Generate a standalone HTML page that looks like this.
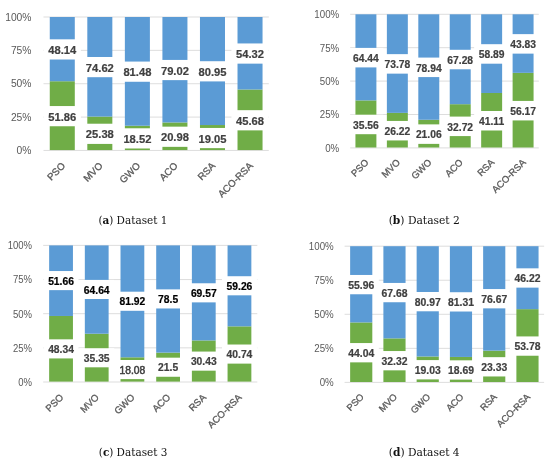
<!DOCTYPE html>
<html><head><meta charset="utf-8"><title>Figure</title>
<style>
html,body{margin:0;padding:0;background:#fff}
svg{display:block}
.s{font-family:"Liberation Sans",sans-serif}
.c{font-family:"DejaVu Serif","Liberation Serif",serif;fill:#111}
</style></head><body>
<svg width="550" height="468" viewBox="0 0 550 468">
<rect width="550" height="468" fill="#fff"/>
<g class="s">
<line x1="43.5" x2="268.8" y1="150.45" y2="150.45" stroke="#D9D9D9" stroke-width="0.9"/>
<text transform="translate(31.5 154.16) scale(1 1)" text-anchor="end" font-size="10.3" fill="#595959">0%</text>
<line x1="43.5" x2="268.8" y1="117.09" y2="117.09" stroke="#D9D9D9" stroke-width="0.9"/>
<text transform="translate(31.5 120.8) scale(1 1)" text-anchor="end" font-size="10.3" fill="#595959">25%</text>
<line x1="43.5" x2="268.8" y1="83.72" y2="83.72" stroke="#D9D9D9" stroke-width="0.9"/>
<text transform="translate(31.5 87.43) scale(1 1)" text-anchor="end" font-size="10.3" fill="#595959">50%</text>
<line x1="43.5" x2="268.8" y1="50.36" y2="50.36" stroke="#D9D9D9" stroke-width="0.9"/>
<text transform="translate(31.5 54.07) scale(1 1)" text-anchor="end" font-size="10.3" fill="#595959">75%</text>
<line x1="43.5" x2="268.8" y1="17" y2="17" stroke="#D9D9D9" stroke-width="0.9"/>
<text transform="translate(31.5 20.71) scale(1 1)" text-anchor="end" font-size="10.3" fill="#595959">100%</text>
<rect x="49.76" y="81.24" width="25.03" height="68.81" fill="#70AD47"/>
<rect x="49.76" y="17" width="25.03" height="64.24" fill="#5B9BD5"/>
<rect x="87.31" y="116.58" width="25.03" height="33.47" fill="#70AD47"/>
<rect x="87.31" y="17" width="25.03" height="99.58" fill="#5B9BD5"/>
<rect x="124.86" y="125.74" width="25.03" height="24.31" fill="#70AD47"/>
<rect x="124.86" y="17" width="25.03" height="108.74" fill="#5B9BD5"/>
<rect x="162.41" y="122.45" width="25.03" height="27.6" fill="#70AD47"/>
<rect x="162.41" y="17" width="25.03" height="105.45" fill="#5B9BD5"/>
<rect x="199.96" y="125.03" width="25.03" height="25.02" fill="#70AD47"/>
<rect x="199.96" y="17" width="25.03" height="108.03" fill="#5B9BD5"/>
<rect x="237.51" y="89.49" width="25.03" height="60.56" fill="#70AD47"/>
<rect x="237.51" y="17" width="25.03" height="72.49" fill="#5B9BD5"/>
<rect x="43.66" y="106.05" width="37.22" height="20.2" fill="#fff"/>
<text x="62.28" y="120.66" text-anchor="middle" font-size="11.2" font-weight="bold" fill="#404040" stroke="#404040" stroke-width="0.2">51.86</text>
<rect x="43.66" y="39.32" width="37.22" height="20.2" fill="#fff"/>
<text x="62.28" y="53.93" text-anchor="middle" font-size="11.2" font-weight="bold" fill="#404040" stroke="#404040" stroke-width="0.2">48.14</text>
<rect x="81.21" y="123.72" width="37.22" height="20.2" fill="#fff"/>
<text x="99.83" y="138.32" text-anchor="middle" font-size="11.2" font-weight="bold" fill="#404040" stroke="#404040" stroke-width="0.2">25.38</text>
<rect x="81.21" y="56.99" width="37.22" height="20.2" fill="#fff"/>
<text x="99.83" y="71.6" text-anchor="middle" font-size="11.2" font-weight="bold" fill="#404040" stroke="#404040" stroke-width="0.2">74.62</text>
<rect x="118.76" y="128.29" width="37.22" height="20.2" fill="#fff"/>
<text x="137.38" y="142.9" text-anchor="middle" font-size="11.2" font-weight="bold" fill="#404040" stroke="#404040" stroke-width="0.2">18.52</text>
<rect x="118.76" y="61.57" width="37.22" height="20.2" fill="#fff"/>
<text x="137.38" y="76.18" text-anchor="middle" font-size="11.2" font-weight="bold" fill="#404040" stroke="#404040" stroke-width="0.2">81.48</text>
<rect x="156.31" y="126.65" width="37.22" height="20.2" fill="#fff"/>
<text x="174.93" y="141.26" text-anchor="middle" font-size="11.2" font-weight="bold" fill="#404040" stroke="#404040" stroke-width="0.2">20.98</text>
<rect x="156.31" y="59.93" width="37.22" height="20.2" fill="#fff"/>
<text x="174.93" y="74.54" text-anchor="middle" font-size="11.2" font-weight="bold" fill="#404040" stroke="#404040" stroke-width="0.2">79.02</text>
<rect x="193.86" y="127.94" width="37.22" height="20.2" fill="#fff"/>
<text x="212.48" y="142.55" text-anchor="middle" font-size="11.2" font-weight="bold" fill="#404040" stroke="#404040" stroke-width="0.2">19.05</text>
<rect x="193.86" y="61.21" width="37.22" height="20.2" fill="#fff"/>
<text x="212.48" y="75.82" text-anchor="middle" font-size="11.2" font-weight="bold" fill="#404040" stroke="#404040" stroke-width="0.2">80.95</text>
<rect x="231.41" y="110.17" width="37.22" height="20.2" fill="#fff"/>
<text x="250.03" y="124.78" text-anchor="middle" font-size="11.2" font-weight="bold" fill="#404040" stroke="#404040" stroke-width="0.2">45.68</text>
<rect x="231.41" y="43.45" width="37.22" height="20.2" fill="#fff"/>
<text x="250.03" y="58.05" text-anchor="middle" font-size="11.2" font-weight="bold" fill="#404040" stroke="#404040" stroke-width="0.2">54.32</text>
<text transform="translate(60.78 161.45) rotate(-45)" text-anchor="end" font-size="9.8" fill="#595959" stroke="#595959" stroke-width="0.3" x="0" y="7.06">PSO</text>
<text transform="translate(98.33 161.45) rotate(-45)" text-anchor="end" font-size="9.8" fill="#595959" stroke="#595959" stroke-width="0.3" x="0" y="7.06">MVO</text>
<text transform="translate(135.88 161.45) rotate(-45)" text-anchor="end" font-size="9.8" fill="#595959" stroke="#595959" stroke-width="0.3" x="0" y="7.06">GWO</text>
<text transform="translate(173.43 161.45) rotate(-45)" text-anchor="end" font-size="9.8" fill="#595959" stroke="#595959" stroke-width="0.3" x="0" y="7.06">ACO</text>
<text transform="translate(210.98 161.45) rotate(-45)" text-anchor="end" font-size="9.8" fill="#595959" stroke="#595959" stroke-width="0.3" x="0" y="7.06">RSA</text>
<text transform="translate(248.53 161.45) rotate(-45)" text-anchor="end" font-size="9.8" fill="#595959" stroke="#595959" stroke-width="0.3" x="0" y="7.06">ACO-RSA</text>
</g>
<text class="c" x="98.4" y="223.6" font-size="10.45">(<tspan font-weight="bold">a</tspan>) Dataset 1</text>
<g class="s">
<line x1="350.2" x2="538.8" y1="147.9" y2="147.9" stroke="#D9D9D9" stroke-width="0.9"/>
<text transform="translate(339.2 151.7) scale(0.975 1)" text-anchor="end" font-size="10.0" fill="#595959">0%</text>
<line x1="350.2" x2="538.8" y1="114.5" y2="114.5" stroke="#D9D9D9" stroke-width="0.9"/>
<text transform="translate(339.2 118.3) scale(0.975 1)" text-anchor="end" font-size="10.0" fill="#595959">25%</text>
<line x1="350.2" x2="538.8" y1="81.1" y2="81.1" stroke="#D9D9D9" stroke-width="0.9"/>
<text transform="translate(339.2 84.9) scale(0.975 1)" text-anchor="end" font-size="10.0" fill="#595959">50%</text>
<line x1="350.2" x2="538.8" y1="47.7" y2="47.7" stroke="#D9D9D9" stroke-width="0.9"/>
<text transform="translate(339.2 51.5) scale(0.975 1)" text-anchor="end" font-size="10.0" fill="#595959">75%</text>
<line x1="350.2" x2="538.8" y1="14.3" y2="14.3" stroke="#D9D9D9" stroke-width="0.9"/>
<text transform="translate(339.2 18.1) scale(0.975 1)" text-anchor="end" font-size="10.0" fill="#595959">100%</text>
<rect x="355.44" y="100.39" width="20.96" height="47.11" fill="#70AD47"/>
<rect x="355.44" y="14.3" width="20.96" height="86.09" fill="#5B9BD5"/>
<rect x="386.87" y="112.87" width="20.96" height="34.63" fill="#70AD47"/>
<rect x="386.87" y="14.3" width="20.96" height="98.57" fill="#5B9BD5"/>
<rect x="418.31" y="119.76" width="20.96" height="27.74" fill="#70AD47"/>
<rect x="418.31" y="14.3" width="20.96" height="105.46" fill="#5B9BD5"/>
<rect x="449.74" y="104.19" width="20.96" height="43.31" fill="#70AD47"/>
<rect x="449.74" y="14.3" width="20.96" height="89.89" fill="#5B9BD5"/>
<rect x="481.17" y="92.98" width="20.96" height="54.52" fill="#70AD47"/>
<rect x="481.17" y="14.3" width="20.96" height="78.68" fill="#5B9BD5"/>
<rect x="512.61" y="72.86" width="20.96" height="74.64" fill="#70AD47"/>
<rect x="512.61" y="14.3" width="20.96" height="58.56" fill="#5B9BD5"/>
<rect x="348.43" y="114.7" width="34.97" height="19.5" fill="#fff"/>
<text x="365.92" y="128.63" text-anchor="middle" font-size="10.3" font-weight="bold" fill="#404040" stroke="#404040" stroke-width="0.2">35.56</text>
<rect x="348.43" y="47.9" width="34.97" height="19.5" fill="#fff"/>
<text x="365.92" y="61.83" text-anchor="middle" font-size="10.3" font-weight="bold" fill="#404040" stroke="#404040" stroke-width="0.2">64.44</text>
<rect x="379.86" y="120.94" width="34.97" height="19.5" fill="#fff"/>
<text x="397.35" y="134.87" text-anchor="middle" font-size="10.3" font-weight="bold" fill="#404040" stroke="#404040" stroke-width="0.2">26.22</text>
<rect x="379.86" y="54.14" width="34.97" height="19.5" fill="#fff"/>
<text x="397.35" y="68.07" text-anchor="middle" font-size="10.3" font-weight="bold" fill="#404040" stroke="#404040" stroke-width="0.2">73.78</text>
<rect x="411.3" y="124.38" width="34.97" height="19.5" fill="#fff"/>
<text x="428.78" y="138.32" text-anchor="middle" font-size="10.3" font-weight="bold" fill="#404040" stroke="#404040" stroke-width="0.2">21.06</text>
<rect x="411.3" y="57.58" width="34.97" height="19.5" fill="#fff"/>
<text x="428.78" y="71.52" text-anchor="middle" font-size="10.3" font-weight="bold" fill="#404040" stroke="#404040" stroke-width="0.2">78.94</text>
<rect x="442.73" y="116.59" width="34.97" height="19.5" fill="#fff"/>
<text x="460.22" y="130.53" text-anchor="middle" font-size="10.3" font-weight="bold" fill="#404040" stroke="#404040" stroke-width="0.2">32.72</text>
<rect x="442.73" y="49.79" width="34.97" height="19.5" fill="#fff"/>
<text x="460.22" y="63.73" text-anchor="middle" font-size="10.3" font-weight="bold" fill="#404040" stroke="#404040" stroke-width="0.2">67.28</text>
<rect x="474.16" y="110.99" width="34.97" height="19.5" fill="#fff"/>
<text x="491.65" y="124.93" text-anchor="middle" font-size="10.3" font-weight="bold" fill="#404040" stroke="#404040" stroke-width="0.2">41.11</text>
<rect x="474.16" y="44.19" width="34.97" height="19.5" fill="#fff"/>
<text x="491.65" y="58.13" text-anchor="middle" font-size="10.3" font-weight="bold" fill="#404040" stroke="#404040" stroke-width="0.2">58.89</text>
<rect x="505.6" y="100.93" width="34.97" height="19.5" fill="#fff"/>
<text x="523.08" y="114.87" text-anchor="middle" font-size="10.3" font-weight="bold" fill="#404040" stroke="#404040" stroke-width="0.2">56.17</text>
<rect x="505.6" y="34.13" width="34.97" height="19.5" fill="#fff"/>
<text x="523.08" y="48.07" text-anchor="middle" font-size="10.3" font-weight="bold" fill="#404040" stroke="#404040" stroke-width="0.2">43.83</text>
<text transform="translate(364.42 158.1) rotate(-45)" text-anchor="end" font-size="9.5" fill="#595959" stroke="#595959" stroke-width="0.3" x="0" y="6.84">PSO</text>
<text transform="translate(395.85 158.1) rotate(-45)" text-anchor="end" font-size="9.5" fill="#595959" stroke="#595959" stroke-width="0.3" x="0" y="6.84">MVO</text>
<text transform="translate(427.28 158.1) rotate(-45)" text-anchor="end" font-size="9.5" fill="#595959" stroke="#595959" stroke-width="0.3" x="0" y="6.84">GWO</text>
<text transform="translate(458.72 158.1) rotate(-45)" text-anchor="end" font-size="9.5" fill="#595959" stroke="#595959" stroke-width="0.3" x="0" y="6.84">ACO</text>
<text transform="translate(490.15 158.1) rotate(-45)" text-anchor="end" font-size="9.5" fill="#595959" stroke="#595959" stroke-width="0.3" x="0" y="6.84">RSA</text>
<text transform="translate(521.58 158.1) rotate(-45)" text-anchor="end" font-size="9.5" fill="#595959" stroke="#595959" stroke-width="0.3" x="0" y="6.84">ACO-RSA</text>
</g>
<text class="c" x="388.7" y="224" font-size="10.7">(<tspan font-weight="bold">b</tspan>) Dataset 2</text>
<g class="s">
<line x1="43.2" x2="257.3" y1="382" y2="382" stroke="#D9D9D9" stroke-width="0.9"/>
<text transform="translate(32.1 385.8) scale(0.955 1)" text-anchor="end" font-size="10.0" fill="#595959">0%</text>
<line x1="43.2" x2="257.3" y1="347.85" y2="347.85" stroke="#D9D9D9" stroke-width="0.9"/>
<text transform="translate(32.1 351.65) scale(0.955 1)" text-anchor="end" font-size="10.0" fill="#595959">25%</text>
<line x1="43.2" x2="257.3" y1="313.7" y2="313.7" stroke="#D9D9D9" stroke-width="0.9"/>
<text transform="translate(32.1 317.5) scale(0.955 1)" text-anchor="end" font-size="10.0" fill="#595959">50%</text>
<line x1="43.2" x2="257.3" y1="279.55" y2="279.55" stroke="#D9D9D9" stroke-width="0.9"/>
<text transform="translate(32.1 283.35) scale(0.955 1)" text-anchor="end" font-size="10.0" fill="#595959">75%</text>
<line x1="43.2" x2="257.3" y1="245.4" y2="245.4" stroke="#D9D9D9" stroke-width="0.9"/>
<text transform="translate(32.1 249.2) scale(0.955 1)" text-anchor="end" font-size="10.0" fill="#595959">100%</text>
<rect x="49.15" y="315.97" width="23.79" height="65.63" fill="#70AD47"/>
<rect x="49.15" y="245.4" width="23.79" height="70.57" fill="#5B9BD5"/>
<rect x="84.83" y="333.71" width="23.79" height="47.89" fill="#70AD47"/>
<rect x="84.83" y="245.4" width="23.79" height="88.31" fill="#5B9BD5"/>
<rect x="120.51" y="357.3" width="23.79" height="24.3" fill="#70AD47"/>
<rect x="120.51" y="245.4" width="23.79" height="111.9" fill="#5B9BD5"/>
<rect x="156.2" y="352.63" width="23.79" height="28.97" fill="#70AD47"/>
<rect x="156.2" y="245.4" width="23.79" height="107.23" fill="#5B9BD5"/>
<rect x="191.88" y="340.43" width="23.79" height="41.17" fill="#70AD47"/>
<rect x="191.88" y="245.4" width="23.79" height="95.03" fill="#5B9BD5"/>
<rect x="227.56" y="326.35" width="23.79" height="55.25" fill="#70AD47"/>
<rect x="227.56" y="245.4" width="23.79" height="80.95" fill="#5B9BD5"/>
<rect x="43.56" y="339.33" width="34.97" height="19.1" fill="#fff"/>
<text x="61.04" y="352.97" text-anchor="middle" font-size="10.3" font-weight="bold" fill="#404040" stroke="#404040" stroke-width="0.2">48.34</text>
<rect x="43.56" y="271.03" width="34.97" height="19.1" fill="#fff"/>
<text x="61.04" y="284.67" text-anchor="middle" font-size="10.3" font-weight="bold" fill="#000000" stroke="#000000" stroke-width="0.2">51.66</text>
<rect x="79.24" y="348.21" width="34.97" height="19.1" fill="#fff"/>
<text x="96.73" y="361.84" text-anchor="middle" font-size="10.3" font-weight="bold" fill="#404040" stroke="#404040" stroke-width="0.2">35.35</text>
<rect x="79.24" y="279.91" width="34.97" height="19.1" fill="#fff"/>
<text x="96.73" y="293.55" text-anchor="middle" font-size="10.3" font-weight="bold" fill="#000000" stroke="#000000" stroke-width="0.2">64.64</text>
<rect x="114.92" y="360" width="34.97" height="19.1" fill="#fff"/>
<text x="132.41" y="373.64" text-anchor="middle" font-size="10.3" font-weight="normal" fill="#404040" stroke="#404040" stroke-width="0.5">18.08</text>
<rect x="114.92" y="291.7" width="34.97" height="19.1" fill="#fff"/>
<text x="132.41" y="305.34" text-anchor="middle" font-size="10.3" font-weight="bold" fill="#000000" stroke="#000000" stroke-width="0.2">81.92</text>
<rect x="153.47" y="357.67" width="29.24" height="19.1" fill="#fff"/>
<text x="168.09" y="371.3" text-anchor="middle" font-size="10.3" font-weight="bold" fill="#404040" stroke="#404040" stroke-width="0.2">21.5</text>
<rect x="153.47" y="289.37" width="29.24" height="19.1" fill="#fff"/>
<text x="168.09" y="303" text-anchor="middle" font-size="10.3" font-weight="bold" fill="#000000" stroke="#000000" stroke-width="0.2">78.5</text>
<rect x="186.29" y="351.57" width="34.97" height="19.1" fill="#fff"/>
<text x="203.78" y="365.2" text-anchor="middle" font-size="10.3" font-weight="bold" fill="#404040" stroke="#404040" stroke-width="0.2">30.43</text>
<rect x="186.29" y="283.27" width="34.97" height="19.1" fill="#fff"/>
<text x="203.78" y="296.9" text-anchor="middle" font-size="10.3" font-weight="bold" fill="#000000" stroke="#000000" stroke-width="0.2">69.57</text>
<rect x="221.97" y="344.52" width="34.97" height="19.1" fill="#fff"/>
<text x="239.46" y="358.16" text-anchor="middle" font-size="10.3" font-weight="bold" fill="#404040" stroke="#404040" stroke-width="0.2">40.74</text>
<rect x="221.97" y="276.22" width="34.97" height="19.1" fill="#fff"/>
<text x="239.46" y="289.86" text-anchor="middle" font-size="10.3" font-weight="bold" fill="#000000" stroke="#000000" stroke-width="0.2">59.26</text>
<text transform="translate(59.04 393) rotate(-45)" text-anchor="end" font-size="9.6" fill="#595959" stroke="#595959" stroke-width="0.3" x="0" y="6.91">PSO</text>
<text transform="translate(94.73 393) rotate(-45)" text-anchor="end" font-size="9.6" fill="#595959" stroke="#595959" stroke-width="0.3" x="0" y="6.91">MVO</text>
<text transform="translate(130.41 393) rotate(-45)" text-anchor="end" font-size="9.6" fill="#595959" stroke="#595959" stroke-width="0.3" x="0" y="6.91">GWO</text>
<text transform="translate(166.09 393) rotate(-45)" text-anchor="end" font-size="9.6" fill="#595959" stroke="#595959" stroke-width="0.3" x="0" y="6.91">ACO</text>
<text transform="translate(201.78 393) rotate(-45)" text-anchor="end" font-size="9.6" fill="#595959" stroke="#595959" stroke-width="0.3" x="0" y="6.91">RSA</text>
<text transform="translate(237.46 393) rotate(-45)" text-anchor="end" font-size="9.6" fill="#595959" stroke="#595959" stroke-width="0.3" x="0" y="6.91">ACO-RSA</text>
</g>
<text class="c" x="98.8" y="456" font-size="10.45">(<tspan font-weight="bold">c</tspan>) Dataset 3</text>
<g class="s">
<line x1="344.6" x2="544.1" y1="382.4" y2="382.4" stroke="#D9D9D9" stroke-width="0.9"/>
<text transform="translate(333.7 386.2) scale(0.975 1)" text-anchor="end" font-size="10.0" fill="#595959">0%</text>
<line x1="344.6" x2="544.1" y1="348.35" y2="348.35" stroke="#D9D9D9" stroke-width="0.9"/>
<text transform="translate(333.7 352.15) scale(0.975 1)" text-anchor="end" font-size="10.0" fill="#595959">25%</text>
<line x1="344.6" x2="544.1" y1="314.3" y2="314.3" stroke="#D9D9D9" stroke-width="0.9"/>
<text transform="translate(333.7 318.1) scale(0.975 1)" text-anchor="end" font-size="10.0" fill="#595959">50%</text>
<line x1="344.6" x2="544.1" y1="280.25" y2="280.25" stroke="#D9D9D9" stroke-width="0.9"/>
<text transform="translate(333.7 284.05) scale(0.975 1)" text-anchor="end" font-size="10.0" fill="#595959">75%</text>
<line x1="344.6" x2="544.1" y1="246.2" y2="246.2" stroke="#D9D9D9" stroke-width="0.9"/>
<text transform="translate(333.7 250) scale(0.975 1)" text-anchor="end" font-size="10.0" fill="#595959">100%</text>
<rect x="350.14" y="322.42" width="22.17" height="59.58" fill="#70AD47"/>
<rect x="350.14" y="246.2" width="22.17" height="76.22" fill="#5B9BD5"/>
<rect x="383.39" y="338.38" width="22.17" height="43.62" fill="#70AD47"/>
<rect x="383.39" y="246.2" width="22.17" height="92.18" fill="#5B9BD5"/>
<rect x="416.64" y="356.48" width="22.17" height="25.52" fill="#70AD47"/>
<rect x="416.64" y="246.2" width="22.17" height="110.28" fill="#5B9BD5"/>
<rect x="449.89" y="356.94" width="22.17" height="25.06" fill="#70AD47"/>
<rect x="449.89" y="246.2" width="22.17" height="110.74" fill="#5B9BD5"/>
<rect x="483.14" y="350.62" width="22.17" height="31.38" fill="#70AD47"/>
<rect x="483.14" y="246.2" width="22.17" height="104.42" fill="#5B9BD5"/>
<rect x="516.39" y="309.15" width="22.17" height="72.85" fill="#70AD47"/>
<rect x="516.39" y="246.2" width="22.17" height="62.95" fill="#5B9BD5"/>
<rect x="343.61" y="343.06" width="35.22" height="19.3" fill="#fff"/>
<text x="361.23" y="356.93" text-anchor="middle" font-size="10.4" font-weight="bold" fill="#404040" stroke="#404040" stroke-width="0.2">44.04</text>
<rect x="343.61" y="274.96" width="35.22" height="19.3" fill="#fff"/>
<text x="361.23" y="288.83" text-anchor="middle" font-size="10.4" font-weight="bold" fill="#404040" stroke="#404040" stroke-width="0.2">55.96</text>
<rect x="376.86" y="351.04" width="35.22" height="19.3" fill="#fff"/>
<text x="394.48" y="364.91" text-anchor="middle" font-size="10.4" font-weight="bold" fill="#404040" stroke="#404040" stroke-width="0.2">32.32</text>
<rect x="376.86" y="282.94" width="35.22" height="19.3" fill="#fff"/>
<text x="394.48" y="296.81" text-anchor="middle" font-size="10.4" font-weight="bold" fill="#404040" stroke="#404040" stroke-width="0.2">67.68</text>
<rect x="410.11" y="360.09" width="35.22" height="19.3" fill="#fff"/>
<text x="427.73" y="373.96" text-anchor="middle" font-size="10.4" font-weight="bold" fill="#404040" stroke="#404040" stroke-width="0.2">19.03</text>
<rect x="410.11" y="291.99" width="35.22" height="19.3" fill="#fff"/>
<text x="427.73" y="305.86" text-anchor="middle" font-size="10.4" font-weight="bold" fill="#404040" stroke="#404040" stroke-width="0.2">80.97</text>
<rect x="443.36" y="360.32" width="35.22" height="19.3" fill="#fff"/>
<text x="460.98" y="374.2" text-anchor="middle" font-size="10.4" font-weight="bold" fill="#404040" stroke="#404040" stroke-width="0.2">18.69</text>
<rect x="443.36" y="292.22" width="35.22" height="19.3" fill="#fff"/>
<text x="460.98" y="306.1" text-anchor="middle" font-size="10.4" font-weight="bold" fill="#404040" stroke="#404040" stroke-width="0.2">81.31</text>
<rect x="476.61" y="357.16" width="35.22" height="19.3" fill="#fff"/>
<text x="494.23" y="371.04" text-anchor="middle" font-size="10.4" font-weight="bold" fill="#404040" stroke="#404040" stroke-width="0.2">23.33</text>
<rect x="476.61" y="289.06" width="35.22" height="19.3" fill="#fff"/>
<text x="494.23" y="302.94" text-anchor="middle" font-size="10.4" font-weight="bold" fill="#404040" stroke="#404040" stroke-width="0.2">76.67</text>
<rect x="509.86" y="336.43" width="35.22" height="19.3" fill="#fff"/>
<text x="527.48" y="350.3" text-anchor="middle" font-size="10.4" font-weight="bold" fill="#404040" stroke="#404040" stroke-width="0.2">53.78</text>
<rect x="509.86" y="268.33" width="35.22" height="19.3" fill="#fff"/>
<text x="527.48" y="282.2" text-anchor="middle" font-size="10.4" font-weight="bold" fill="#404040" stroke="#404040" stroke-width="0.2">46.22</text>
<text transform="translate(359.73 392.7) rotate(-45)" text-anchor="end" font-size="9.4" fill="#595959" stroke="#595959" stroke-width="0.3" x="0" y="6.77">PSO</text>
<text transform="translate(392.98 392.7) rotate(-45)" text-anchor="end" font-size="9.4" fill="#595959" stroke="#595959" stroke-width="0.3" x="0" y="6.77">MVO</text>
<text transform="translate(426.23 392.7) rotate(-45)" text-anchor="end" font-size="9.4" fill="#595959" stroke="#595959" stroke-width="0.3" x="0" y="6.77">GWO</text>
<text transform="translate(459.48 392.7) rotate(-45)" text-anchor="end" font-size="9.4" fill="#595959" stroke="#595959" stroke-width="0.3" x="0" y="6.77">ACO</text>
<text transform="translate(492.73 392.7) rotate(-45)" text-anchor="end" font-size="9.4" fill="#595959" stroke="#595959" stroke-width="0.3" x="0" y="6.77">RSA</text>
<text transform="translate(525.98 392.7) rotate(-45)" text-anchor="end" font-size="9.4" fill="#595959" stroke="#595959" stroke-width="0.3" x="0" y="6.77">ACO-RSA</text>
</g>
<text class="c" x="388.8" y="456.3" font-size="10.65">(<tspan font-weight="bold">d</tspan>) Dataset 4</text>
</svg>
</body></html>
